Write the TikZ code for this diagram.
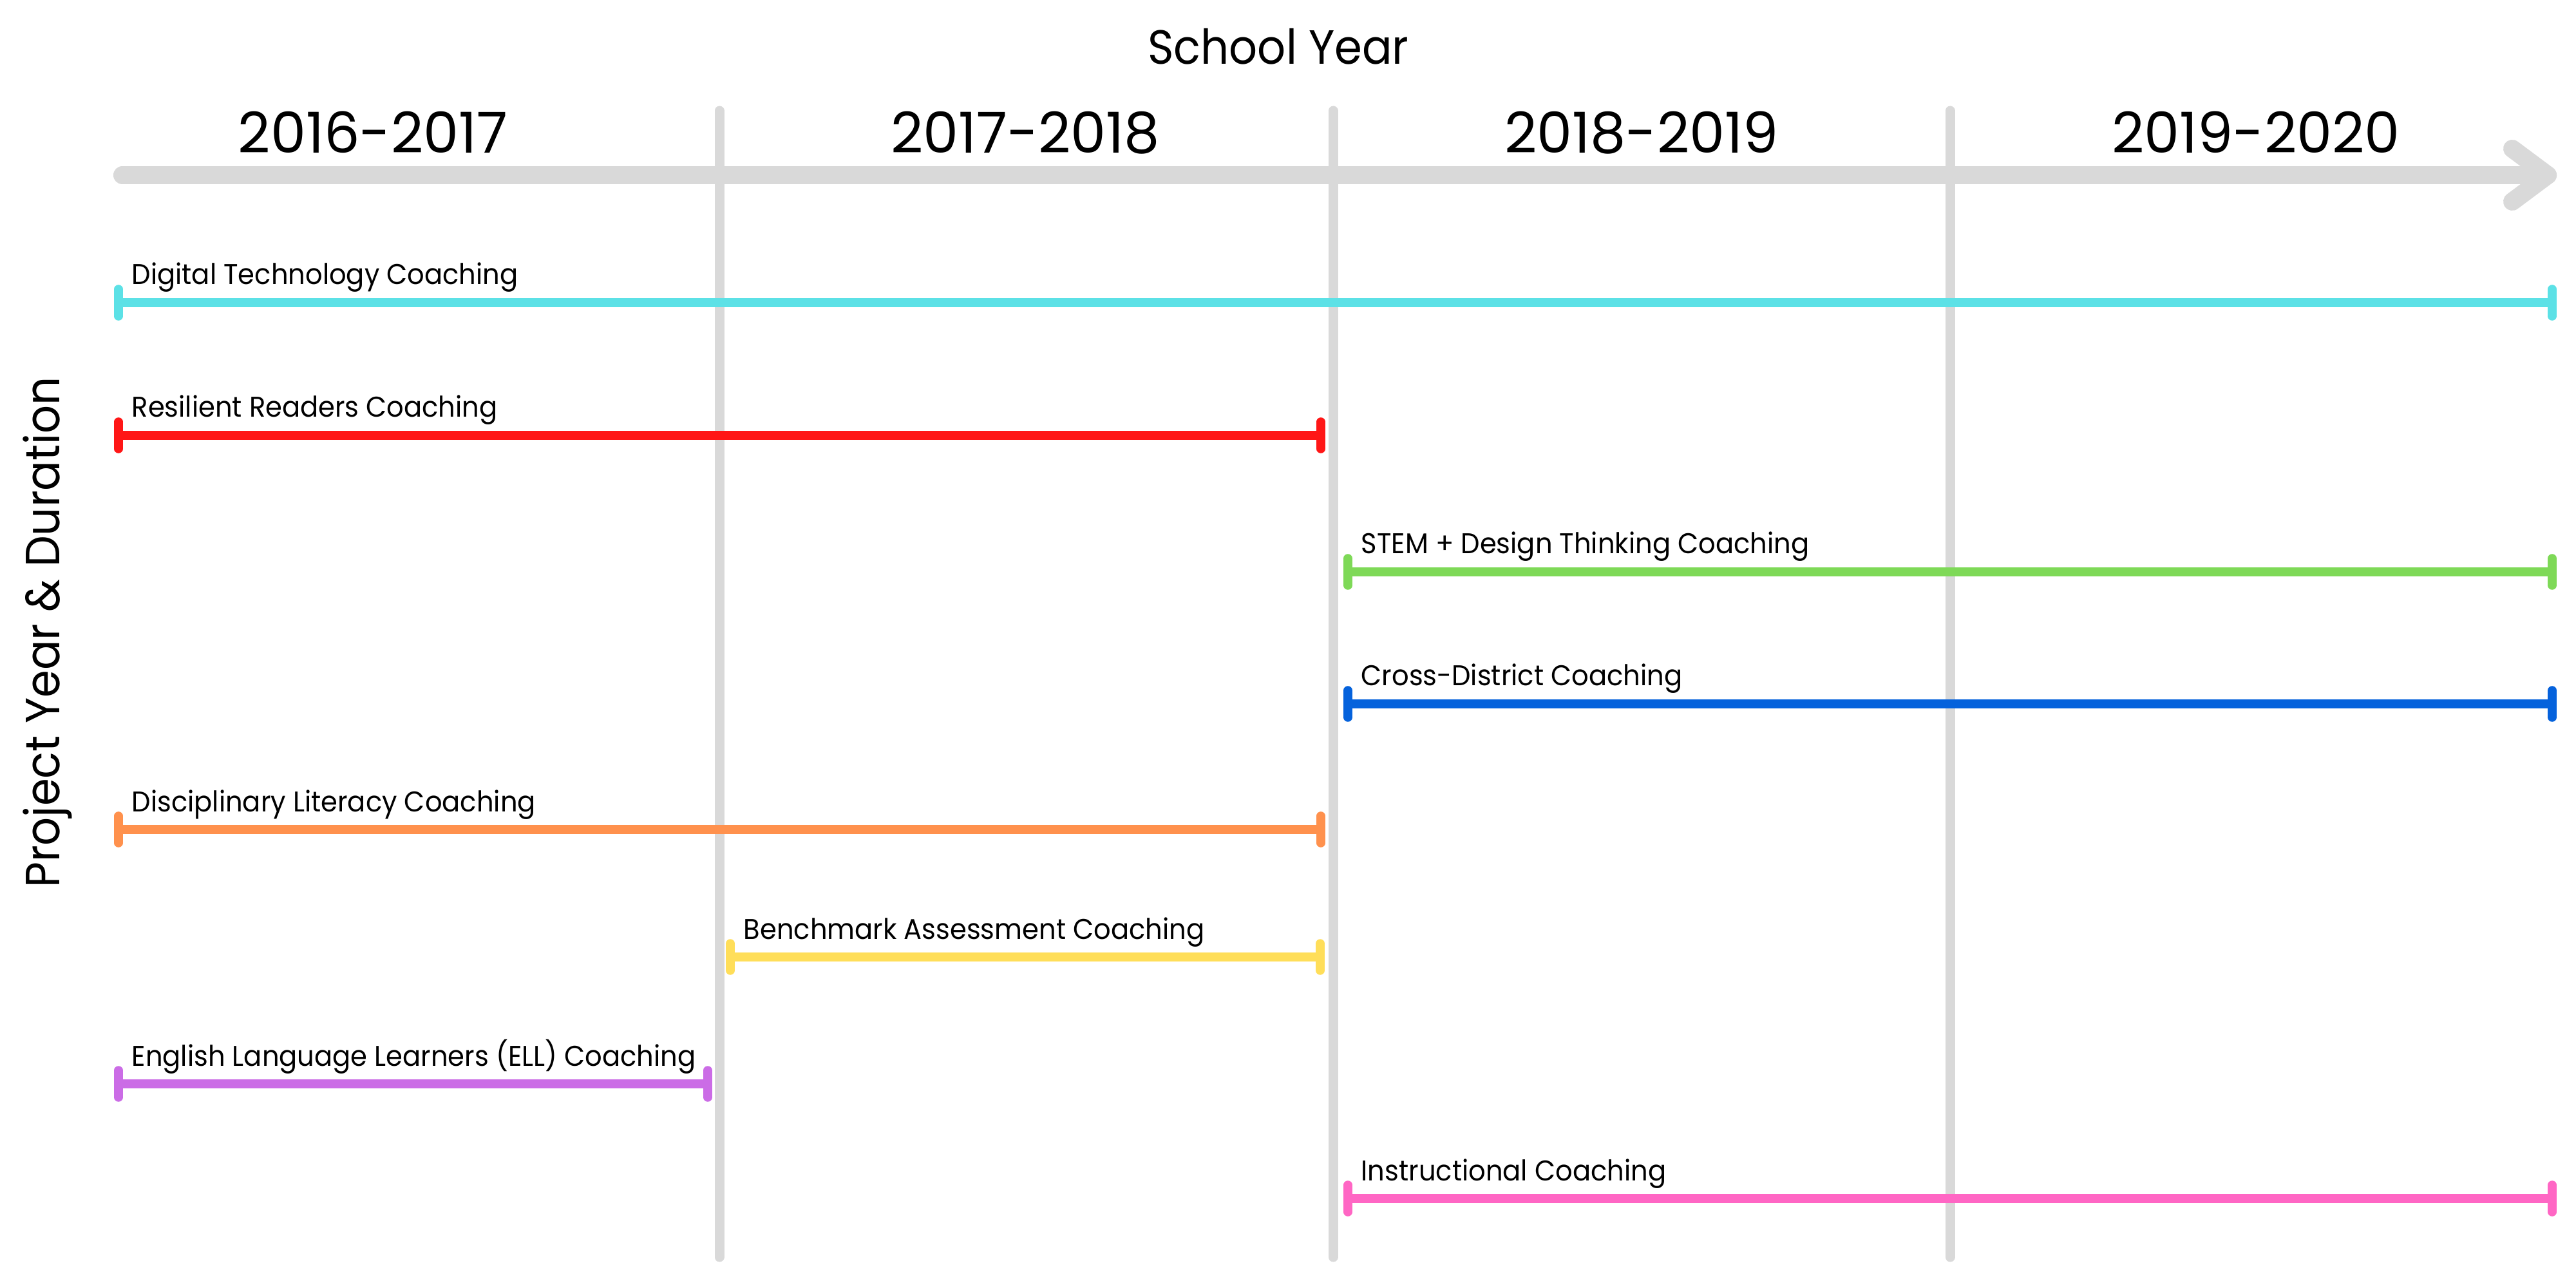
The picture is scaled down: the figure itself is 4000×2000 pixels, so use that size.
\documentclass[tikz,border=0pt]{standalone}
\usepackage{fontspec}
\setmainfont{Poppins}
\newfontfamily\labfont[FakeStretch=0.94]{Poppins}
\newfontfamily\titfont[FakeStretch=0.925]{Poppins}
\definecolor{gridgrey}{HTML}{D9D9D9}
\definecolor{ccyan}{HTML}{5CE1E6}
\definecolor{cred}{HTML}{FF1616}
\definecolor{cgreen}{HTML}{7ED957}
\definecolor{cblue}{HTML}{0562DC}
\definecolor{corange}{HTML}{FF914D}
\definecolor{cyellow}{HTML}{FFDE59}
\definecolor{cpurple}{HTML}{CB6CE6}
\definecolor{cpink}{HTML}{FF66C4}
\begin{document}
\begin{tikzpicture}[x=0.01cm,y=-0.01cm,
  axisline/.style={draw=gridgrey,line width=0.28cm,line cap=round,line join=round},
  gridline/.style={draw=gridgrey,line width=0.15cm,line cap=round},
  barline/.style={line width=0.14cm},
  endcap/.style={line width=0.135cm,line cap=round},
  barlabel/.style={anchor=base west,inner sep=0pt,font=\labfont\fontsize{12.6}{14}\selectfont},
  yearlabel/.style={anchor=base,inner sep=0pt,font=\fontsize{24.9}{28}\selectfont},
  titlelabel/.style={anchor=base,inner sep=0pt,font=\titfont\fontsize{21.2}{24}\selectfont}]
\useasboundingbox (0,0) rectangle (4000,2000);
\fill[white] (0,0) rectangle (4000,2000);
% grid lines
\coordinate (g1t) at (1117,172); \coordinate (g1b) at (1117,1952);
\coordinate (g2t) at (2070,172); \coordinate (g2b) at (2070,1952);
\coordinate (g3t) at (3028,172); \coordinate (g3b) at (3028,1952);
\draw[gridline] (g1t) -- (g1b);
\draw[gridline] (g2t) -- (g2b);
\draw[gridline] (g3t) -- (g3b);
% main axis arrow
\coordinate (as) at (190,272); \coordinate (ae) at (3956,272);
\coordinate (ha) at (3901,231); \coordinate (hb) at (3901,313);
\draw[axisline] (as) -- (ae);
\draw[axisline] (ha) -- (ae) -- (hb);
% titles
\node[titlelabel] (title) at (1985,100) {School Year};
\node[titlelabel,rotate=90] (ytitle) at (92,982) {Project Year \& Duration};
\node[yearlabel] (y1) at (579,238) {2016-2017};
\node[yearlabel] (y2) at (1592,238) {2017-2018};
\node[yearlabel] (y3) at (2549,238) {2018-2019};
\node[yearlabel] (y4) at (3503,238) {2019-2020};
% bars: #1 name, #2 colour, #3 x start, #4 x end, #5 y, #6 label
\newcommand{\tlbar}[6]{%
  \coordinate (#1s) at (#3,#5);
  \coordinate (#1e) at (#4,#5);
  \draw[barline,#2] (#1s) -- (#1e);
  \draw[endcap,#2] ([yshift=0.21cm]#1s) -- ([yshift=-0.21cm]#1s);
  \draw[endcap,#2] ([yshift=0.21cm]#1e) -- ([yshift=-0.21cm]#1e);
  \node[barlabel] (#1l) at ([xshift=0.2cm,yshift=0.28cm]#1s) {#6};
}
\tlbar{dig}{ccyan}{184}{3963}{470}{Digital Technology Coaching}
\tlbar{res}{cred}{184}{2051}{676}{Resilient Readers Coaching}
\tlbar{stem}{cgreen}{2093}{3963}{888}{STEM + Design Thinking Coaching}
\tlbar{cross}{cblue}{2093}{3963}{1093}{Cross-District Coaching}
\tlbar{disc}{corange}{184}{2051}{1288}{Disciplinary Literacy Coaching}
\tlbar{bench}{cyellow}{1134}{2050}{1486}{Benchmark Assessment Coaching}
\tlbar{ell}{cpurple}{184}{1099}{1683}{English Language Learners (ELL) Coaching}
\tlbar{inst}{cpink}{2093}{3963}{1861}{Instructional Coaching}
\end{tikzpicture}
\end{document}
